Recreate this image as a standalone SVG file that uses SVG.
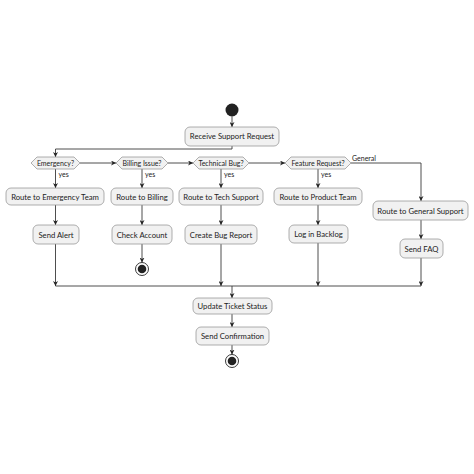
<svg xmlns="http://www.w3.org/2000/svg" width="474" height="474" viewBox="0 0 474 474">
<style>
.box{fill:#F1F1F1;stroke:#9a9a9a;stroke-width:0.8}
.t{font-family:Lato,"Open Sans",sans-serif;font-size:7.7px;fill:#222;text-anchor:middle}
.s{font-family:Lato,"Open Sans",sans-serif;font-size:7px;fill:#222}
.c{fill:none;stroke:#3a3a3a;stroke-width:0.9}
</style>
<defs>
<marker id="a" viewBox="0 0 10 10" refX="10" refY="5" markerWidth="5" markerHeight="5" markerUnits="userSpaceOnUse" orient="auto">
<path d="M0,0 L10,5 L0,10 L3,5 z" fill="#222"/>
</marker>
</defs>
<rect width="474" height="474" fill="#fff"/>
<g id="connectors">
<path class="c" d="M232,116.5 V127" marker-end="url(#a)"/>
<path class="c" d="M232,146 V149 H55.5 V157" marker-end="url(#a)"/>
<path class="c" d="M80,163 H116" marker-end="url(#a)"/>
<path class="c" d="M168,163 H193" marker-end="url(#a)"/>
<path class="c" d="M249,163 H285" marker-end="url(#a)"/>
<path class="c" d="M351,163 H421 V201" marker-end="url(#a)"/>
<path class="c" d="M55.5,169 V188" marker-end="url(#a)"/>
<path class="c" d="M142,169 V188" marker-end="url(#a)"/>
<path class="c" d="M221,169 V188" marker-end="url(#a)"/>
<path class="c" d="M318,169 V188" marker-end="url(#a)"/>
<path class="c" d="M55.5,205 V225" marker-end="url(#a)"/>
<path class="c" d="M142,205 V225" marker-end="url(#a)"/>
<path class="c" d="M221,205 V225" marker-end="url(#a)"/>
<path class="c" d="M318,205 V225" marker-end="url(#a)"/>
<path class="c" d="M421,220 V239" marker-end="url(#a)"/>
<path class="c" d="M142,244 V262.5" marker-end="url(#a)"/>
<path class="c" d="M55.5,244 V286" marker-end="url(#a)"/>
<path class="c" d="M221,244 V286" marker-end="url(#a)"/>
<path class="c" d="M318,243 V286" marker-end="url(#a)"/>
<path class="c" d="M421,258 V286" marker-end="url(#a)"/>
<path class="c" d="M55.5,286 H421"/>
<path class="c" d="M232,286 V298" marker-end="url(#a)"/>
<path class="c" d="M232,314 V327" marker-end="url(#a)"/>
<path class="c" d="M232,345 V354.5" marker-end="url(#a)"/>
<text class="s" x="58.5" y="177">yes</text>
<text class="s" x="145" y="177">yes</text>
<text class="s" x="224" y="177">yes</text>
<text class="s" x="321" y="177">yes</text>
<text class="s" x="352" y="161">General</text>
</g>
<g id="start"><circle cx="232" cy="110" r="6.5" fill="#222"/></g>
<g id="receive"><rect class="box" x="185" y="127" width="94" height="19" rx="5"/><text class="t" x="232" y="139.3">Receive Support Request</text></g>
<g id="d-emergency"><polygon class="box" points="31,163 37,157 74,157 80,163 74,169 37,169"/><text class="s" x="55.5" y="165.5" text-anchor="middle">Emergency?</text></g>
<g id="d-billing"><polygon class="box" points="116,163 122,157 162,157 168,163 162,169 122,169"/><text class="s" x="142" y="165.5" text-anchor="middle">Billing Issue?</text></g>
<g id="d-tech"><polygon class="box" points="193,163 199,157 243,157 249,163 243,169 199,169"/><text class="s" x="221" y="165.5" text-anchor="middle">Technical Bug?</text></g>
<g id="d-feature"><polygon class="box" points="285,163 291,157 345,157 351,163 345,169 291,169"/><text class="s" x="318" y="165.5" text-anchor="middle">Feature Request?</text></g>
<g id="route-emergency"><rect class="box" x="6" y="188" width="98" height="17" rx="5"/><text class="t" x="55" y="199.5">Route to Emergency Team</text></g>
<g id="route-billing"><rect class="box" x="111" y="188" width="62" height="17" rx="5"/><text class="t" x="142" y="199.5">Route to Billing</text></g>
<g id="route-tech"><rect class="box" x="179" y="188" width="84" height="17" rx="5"/><text class="t" x="221" y="199.5">Route to Tech Support</text></g>
<g id="route-product"><rect class="box" x="274" y="188" width="88" height="17" rx="5"/><text class="t" x="318" y="199.5">Route to Product Team</text></g>
<g id="route-general"><rect class="box" x="373" y="201" width="95" height="19" rx="5"/><text class="t" x="420.5" y="213.5">Route to General Support</text></g>
<g id="send-alert"><rect class="box" x="33" y="225" width="46" height="19" rx="5"/><text class="t" x="56" y="237.5">Send Alert</text></g>
<g id="check-account"><rect class="box" x="112" y="225" width="60" height="19" rx="5"/><text class="t" x="142" y="237.5">Check Account</text></g>
<g id="create-bug"><rect class="box" x="185" y="225" width="72" height="19" rx="5"/><text class="t" x="221" y="237.5">Create Bug Report</text></g>
<g id="log-backlog"><rect class="box" x="289" y="225" width="59" height="18" rx="5"/><text class="t" x="318.5" y="237">Log in Backlog</text></g>
<g id="send-faq"><rect class="box" x="400" y="239" width="43" height="19" rx="5"/><text class="t" x="421.5" y="251.5">Send FAQ</text></g>
<g id="end1"><circle cx="142" cy="269" r="6.5" fill="#fff" stroke="#222" stroke-width="0.9"/><circle cx="142" cy="269" r="4.3" fill="#222"/></g>
<g id="update"><rect class="box" x="193" y="298" width="79" height="16" rx="5"/><text class="t" x="232.5" y="309">Update Ticket Status</text></g>
<g id="confirm"><rect class="box" x="196" y="327" width="73" height="18" rx="5"/><text class="t" x="232.5" y="339">Send Confirmation</text></g>
<g id="end2"><circle cx="232" cy="361" r="6.5" fill="#fff" stroke="#222" stroke-width="0.9"/><circle cx="232" cy="361" r="4.3" fill="#222"/></g>
</svg>
